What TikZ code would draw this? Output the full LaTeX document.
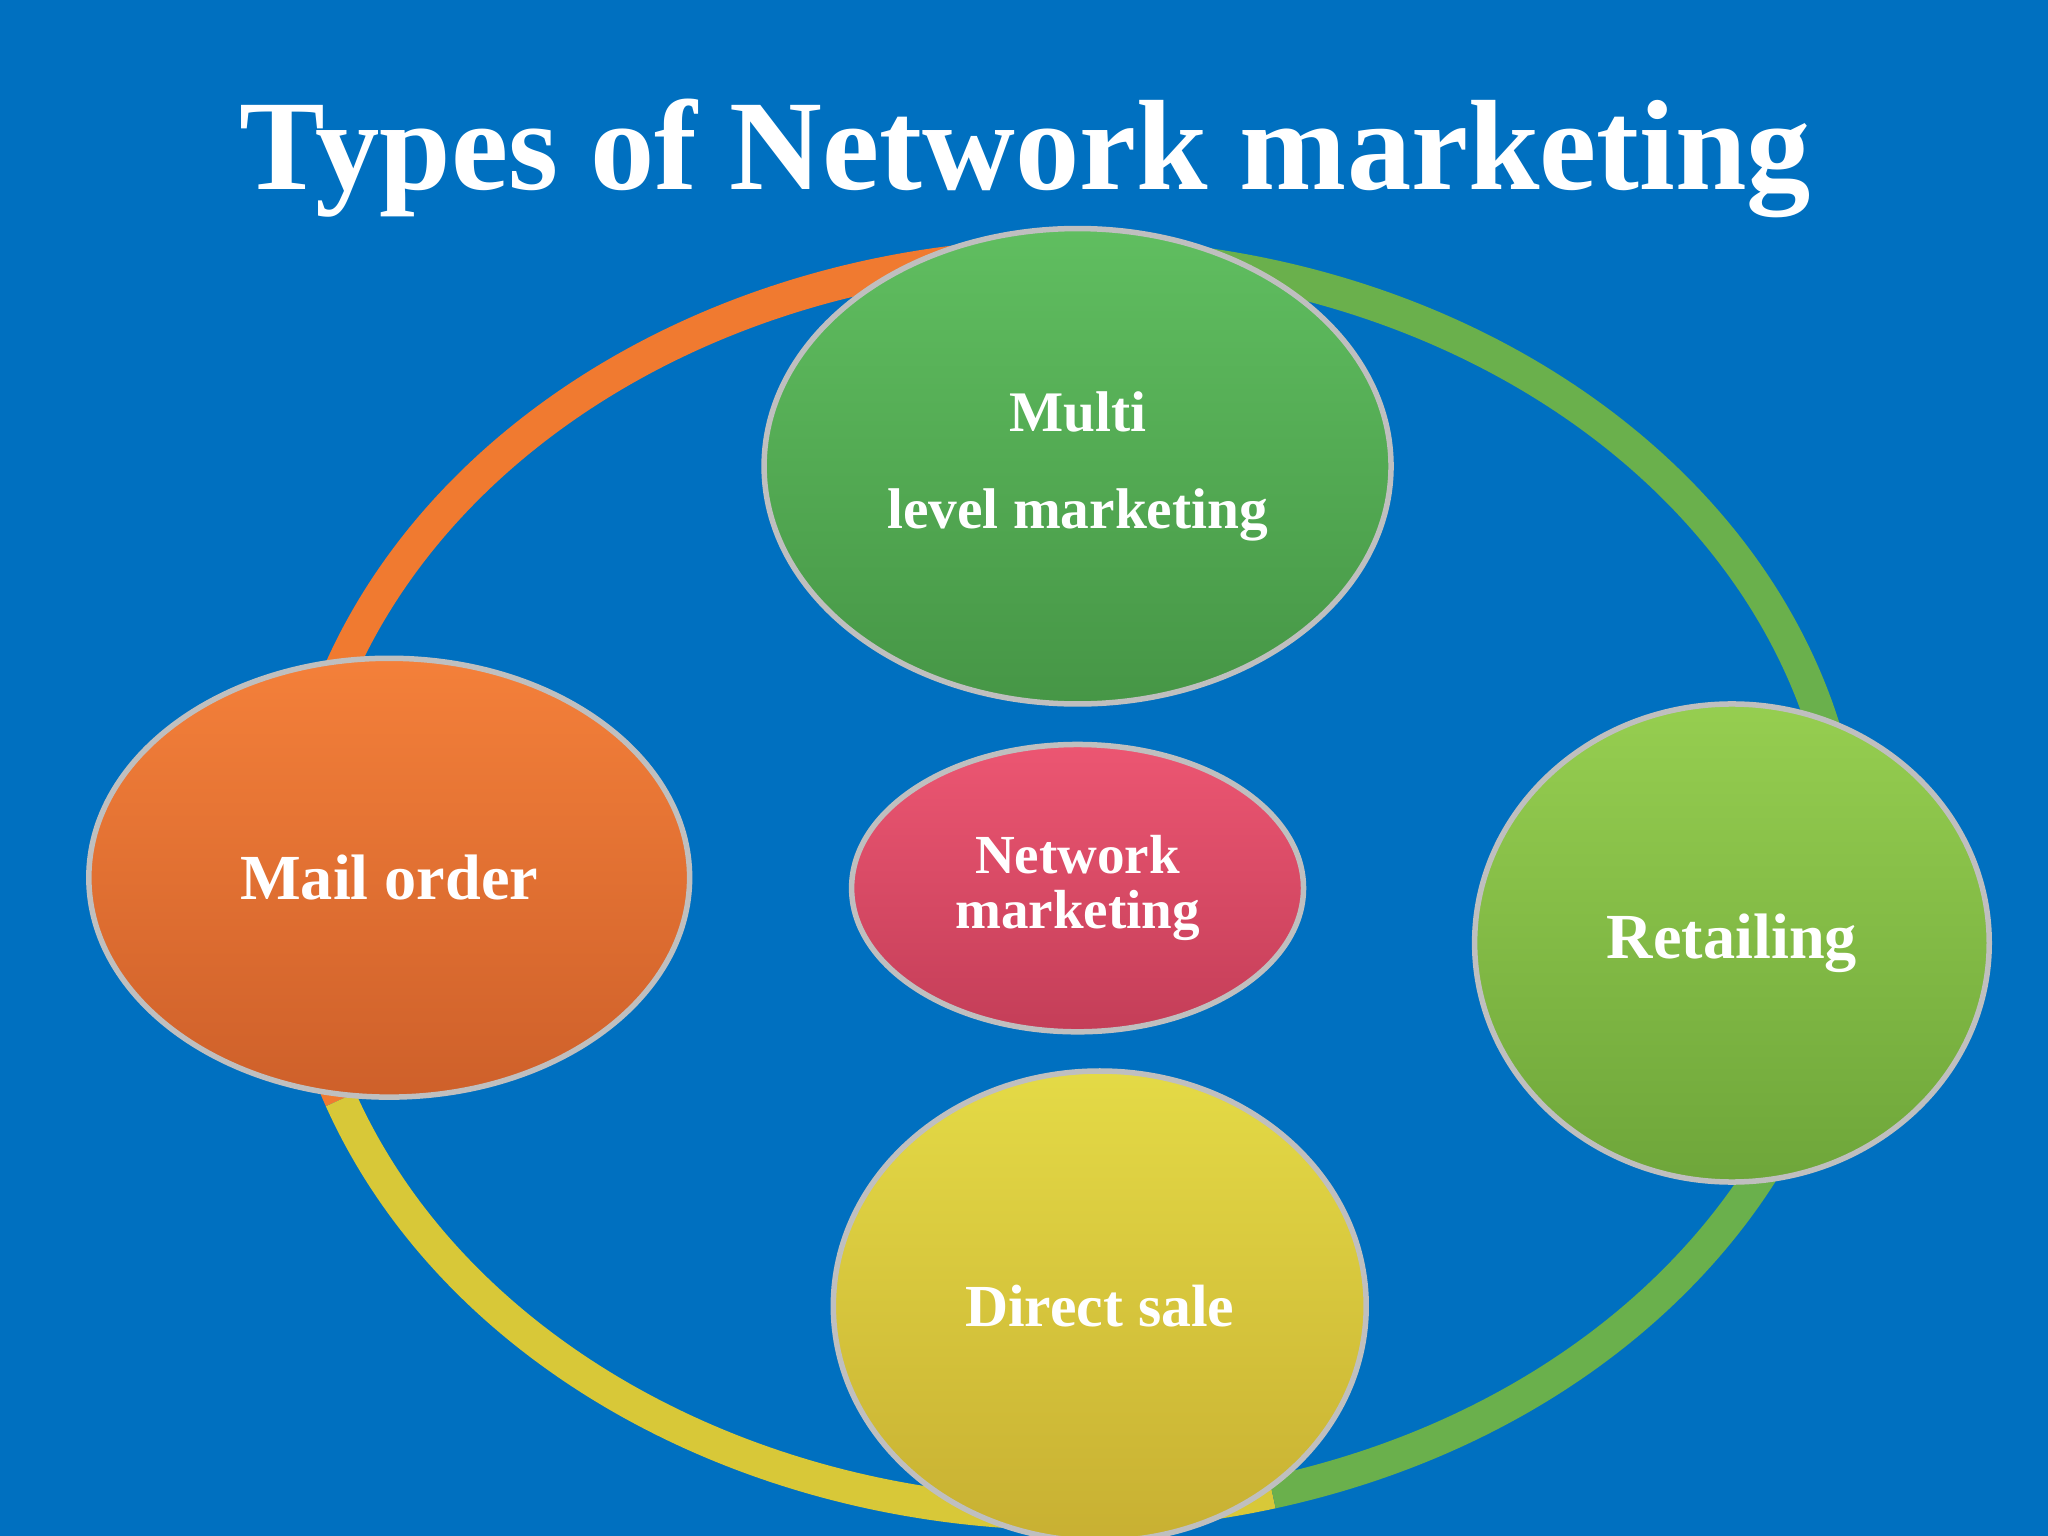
\documentclass[tikz,border=0pt]{standalone}
\usepackage{fontspec}
\setmainfont{Liberation Serif}
\usetikzlibrary{shapes.geometric}
\definecolor{bg}{HTML}{0070C0}
\definecolor{ringO}{HTML}{F07A30}
\definecolor{ringG}{HTML}{6AB04C}
\definecolor{ringY}{HTML}{D8C838}
\tikzset{
 blob/.style={ellipse, draw=white!75!black, line width=1.2pt, text=white, font=\bfseries, align=center, inner sep=0pt},
 ringseg/.style={line width=0.25cm}
}
\begin{document}
\begin{tikzpicture}[x=1cm,y=1cm]
\fill[bg] (0,0) rectangle (15.68,11.76);
\useasboundingbox (0,0) rectangle (15.68,11.76);
\node[text=white, font=\bfseries\fontsize{28}{30}\selectfont] (title) at (7.85,10.55) {Types of Network marketing};
% ring
\coordinate (c) at (8.2,4.99);
\draw[ringseg, ringO] (c) ++(95:5.95 and 4.82) arc (95:200:5.95 and 4.82);
\draw[ringseg, ringY] (c) ++(200:5.95 and 4.82) arc (200:285:5.95 and 4.82);
\draw[ringseg, ringG] (c) ++(-75:5.95 and 4.82) arc (-75:95:5.95 and 4.82);
% ellipses
\node[blob, minimum width=4.8cm, minimum height=3.64cm, top color=green!55!black!80!white, bottom color=green!45!black!85!white, top color={rgb,255:red,96;green,190;blue,96}, bottom color={rgb,255:red,70;green,150;blue,70}, font=\bfseries\fontsize{12.5}{21}\selectfont] (mlm) at (8.25,8.19) {Multi\\level marketing};
\node[blob, minimum width=4.6cm, minimum height=3.36cm, top color={rgb,255:red,244;green,128;blue,58}, bottom color={rgb,255:red,206;green,96;blue,42}, font=\bfseries\fontsize{14}{16}\selectfont] (mail) at (2.98,5.04) {Mail order};
\node[blob, minimum width=3.46cm, minimum height=2.2cm, top color={rgb,255:red,236;green,86;blue,114}, bottom color={rgb,255:red,196;green,62;blue,88}, font=\bfseries\fontsize{12}{12}\selectfont] (nm) at (8.25,4.96) {Network\\marketing};
\node[blob, minimum width=3.94cm, minimum height=3.66cm, top color={rgb,255:red,150;green,206;blue,80}, bottom color={rgb,255:red,110;green,166;blue,58}, font=\bfseries\fontsize{14}{16}\selectfont] (ret) at (13.26,4.54) {Retailing};
\node[blob, minimum width=4.08cm, minimum height=3.6cm, top color={rgb,255:red,228;green,218;blue,70}, bottom color={rgb,255:red,200;green,176;blue,50}, font=\bfseries\fontsize{13}{16}\selectfont] (ds) at (8.42,1.76) {Direct sale};
\end{tikzpicture}
\end{document}
